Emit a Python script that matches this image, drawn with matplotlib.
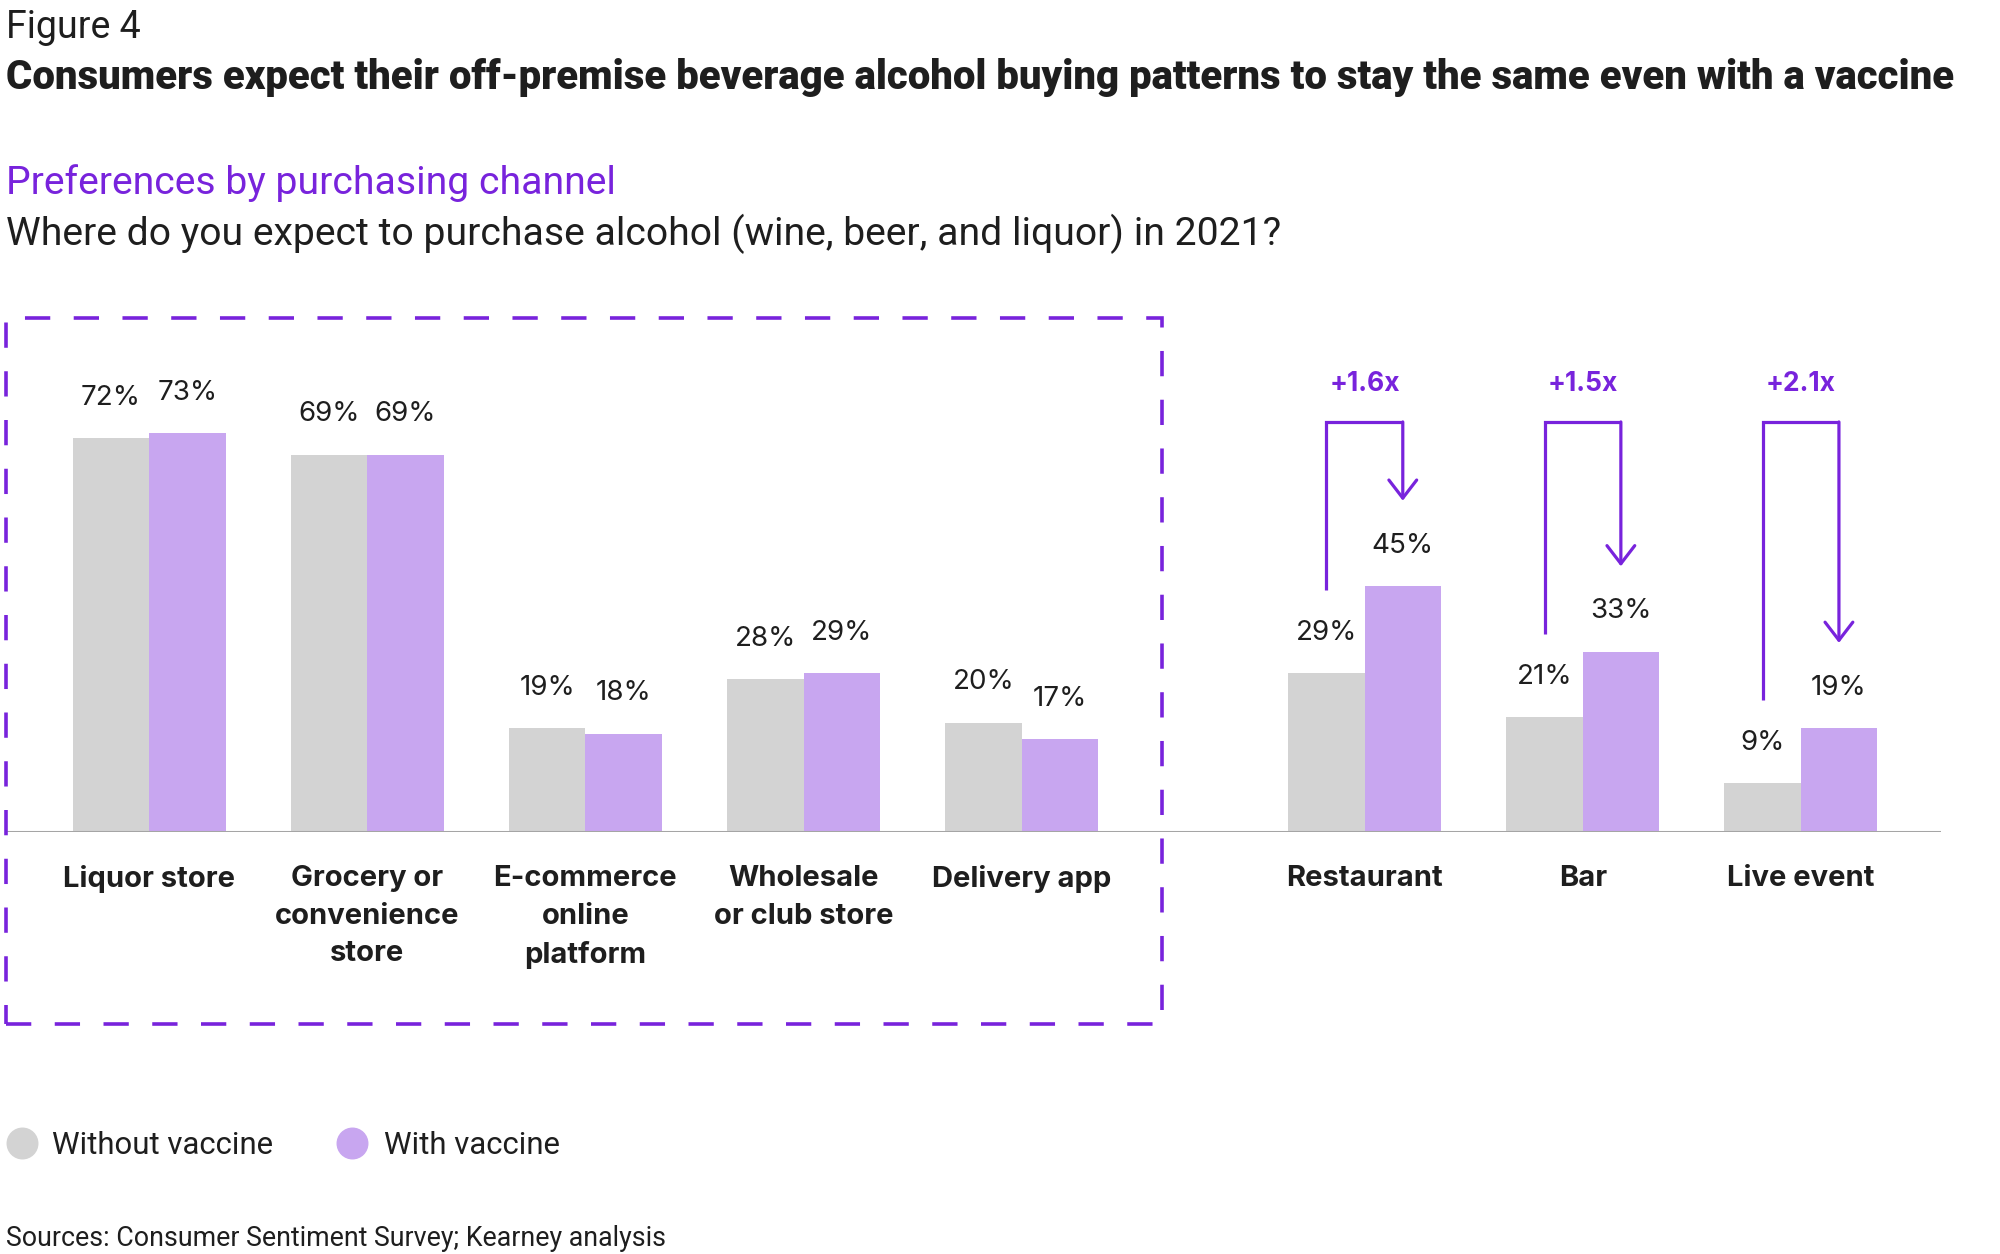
import numpy as np
import matplotlib
matplotlib.use("Agg")
from matplotlib import pyplot as plt
from matplotlib.patches import Rectangle
from matplotlib.lines import Line2D

# data
categories = ["Liquor store", "Grocery or\nconvenience\nstore", "E-commerce\nonline\nplatform",
              "Wholesale\nor club store", "Delivery app", "Restaurant", "Bar", "Live event"]
without_vaccine = [72, 69, 19, 28, 20, 29, 21, 9]
with_vaccine = [73, 69, 18, 29, 17, 45, 33, 19]
multipliers = ["+1.6x", "+1.5x", "+2.1x"]   # for the last three (on-premise) channels
n_off_premise = 5

GRAY = "#d3d3d3"
LILAC = "#c8a6f0"
PURPLE = "#7823dc"
TEXT = "#1e1e1e"
HEAD = "Roboto"
BODY = "Inter"

fig = plt.figure(figsize=(20, 12.54), dpi=100)
ax = fig.add_axes([0.003, 0.3365, 0.9675, 0.436])

# group positions: on-premise channels get an extra gap
x = np.arange(len(categories), dtype=float)
x[n_off_premise:] += 0.573
w = 0.35

ax.bar(x - w / 2, without_vaccine, w, color=GRAY, zorder=2)
ax.bar(x + w / 2, with_vaccine, w, color=LILAC, zorder=2)

for xi, a, b in zip(x, without_vaccine, with_vaccine):
    ax.annotate(f"{a}%", (xi - w / 2, a), xytext=(0, 29), textcoords="offset points",
                ha="center", va="center", fontsize=20, color=TEXT, family=BODY)
    ax.annotate(f"{b}%", (xi + w / 2, b), xytext=(0, 29), textcoords="offset points",
                ha="center", va="center", fontsize=20, color=TEXT, family=BODY)

for xi, lab in zip(x, categories):
    ax.text(xi, -6.1, lab, ha="center", va="top", fontsize=21, fontweight="bold",
            color=TEXT, family=BODY, linespacing=1.5)

# elbow arrows above the on-premise bars
top = 75
for xi, a, b, m in zip(x[n_off_premise:], without_vaccine[n_off_premise:],
                       with_vaccine[n_off_premise:], multipliers):
    xl, xr = xi - w / 2, xi + w / 2
    ax.plot([xl, xl, xr], [a + 15.2, top, top], color=PURPLE, lw=2.3,
            solid_joinstyle="miter", solid_capstyle="butt", zorder=3)
    ax.annotate("", xy=(xr, b + 15.6), xytext=(xr, top),
                arrowprops=dict(arrowstyle="->,head_length=0.65,head_width=0.5",
                                mutation_scale=20, lw=2.3, color=PURPLE,
                                shrinkA=0, shrinkB=0))
    ax.text(xi, top + 7.0, m, ha="center", va="center", fontsize=19,
            fontweight="bold", color=PURPLE, family=BODY)

# dashed box round the off-premise channels
box = Rectangle((-0.655, -35.1), 5.3, 129.1, fill=False, edgecolor=PURPLE,
                lw=2.6, linestyle=(0, (7, 6.5)), clip_on=False, zorder=4)
ax.add_patch(box)

ax.axhline(0, color="#a5a5a5", lw=2.2, zorder=3)
ax.set_xlim(-0.657, 8.216)
ax.set_ylim(0, 100)
ax.axis("off")

# header
fig.text(0.003, 0.9697, "Figure 4", fontsize=27, color=TEXT, family=HEAD)
fig.text(0.003, 0.929,
         "Consumers expect their off-premise beverage alcohol buying patterns to stay the same even with a vaccine",
         fontsize=28.9, fontweight="black", color=TEXT, family=HEAD)
fig.text(0.003, 0.845, "Preferences by purchasing channel", fontsize=28.2, color=PURPLE, family=HEAD)
fig.text(0.003, 0.8046, "Where do you expect to purchase alcohol (wine, beer, and liquor) in 2021?",
         fontsize=28.2, color=TEXT, family=HEAD)

# legend
for cx, tx, col, lab in [(0.0108, 0.026, GRAY, "Without vaccine"), (0.176, 0.192, LILAC, "With vaccine")]:
    fig.add_artist(Line2D([cx], [0.0885], marker="o", markersize=22, color=col,
                          linestyle="none", transform=fig.transFigure))
    fig.text(tx, 0.0797, lab, fontsize=22.4, color=TEXT, family=HEAD)

fig.text(0.003, 0.0064, "Sources: Consumer Sentiment Survey; Kearney analysis",
         fontsize=19.3, color=TEXT, family=HEAD)

fig.savefig("out.png", dpi=100, facecolor="white")
